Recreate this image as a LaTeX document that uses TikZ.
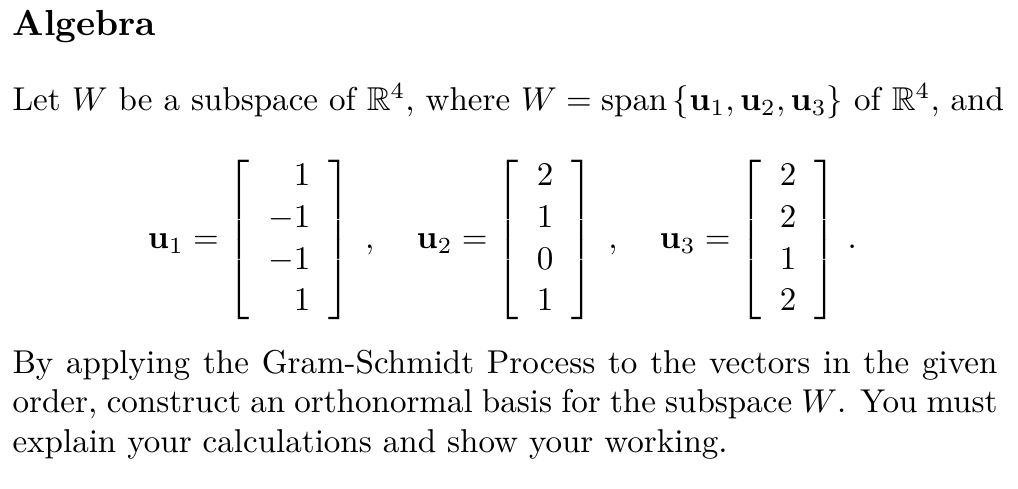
\documentclass[tikz,border=0pt]{standalone}
\usepackage{amsmath,amssymb}
\newcommand{\myvec}[2]{\left[\begin{array}{@{\hspace{5.5pt}}#1@{\hspace{5.5pt}}}#2\end{array}\right]}
\begin{document}
\begin{tikzpicture}[x=1pt,y=1pt,txt/.style={inner sep=0pt,anchor=base west}]
\useasboundingbox (0,0) rectangle (308,-147.7);
\node[txt] (title) at (3.6,-10.6) {\fontsize{10.95}{13}\selectfont\bfseries Algebra};
\node[txt] (l1) at (3.6,-33.4) {Let $W$ be a subspace of $\mathbb{R}^4$, where $W=\operatorname{span}\left\{\mathbf{u}_1,\mathbf{u}_2,\mathbf{u}_3\right\}$ of $\mathbb{R}^4$, and};
\node[inner sep=0pt] (m) at (152,-72.6) {$\displaystyle\renewcommand{\arraystretch}{1.05}
\mathbf{u}_1=\myvec{r}{1\\-1\\-1\\1}\;,\;\;\;\;
\mathbf{u}_2=\myvec{c}{2\\1\\0\\1}\;,\;\;\;\;
\mathbf{u}_3=\myvec{c}{2\\2\\1\\2}\,.$};
\node[inner sep=0pt,anchor=north west,text width=298pt,align=justify] (p) at (3.6,-105.7)
{By applying the Gram-Schmidt Process to the vectors in the given order, construct an orthonormal basis for the subspace $W$. You must explain your calculations and show your working.};
\end{tikzpicture}
\end{document}
